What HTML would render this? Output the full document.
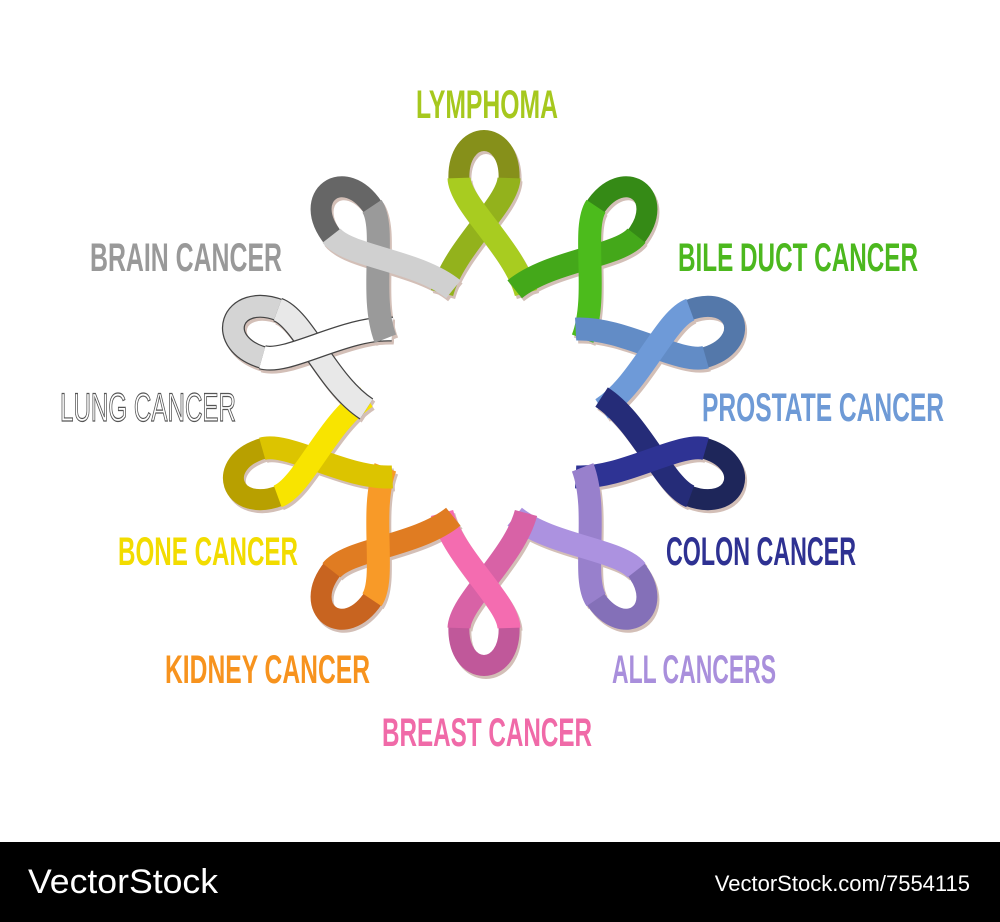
<!DOCTYPE html>
<html><head><meta charset="utf-8"><style>
html,body{margin:0;padding:0;background:#fff;}
svg{display:block;}
</style></head><body>
<svg width="1000" height="922" viewBox="0 0 1000 922" xmlns="http://www.w3.org/2000/svg">
<defs>
<path id="pk" d="M -25,-222 C -28,-276 28,-276 25,-222"/>
<path id="pd" d="M 25,-225 C 24,-198 -30,-155 -42,-110"/>
<path id="pl" d="M -25,-225 C -24,-198 30,-155 42,-110"/>
<g id="rib" fill="none" stroke-width="23">
  <use href="#pk" stroke="var(--k)" stroke-width="21"/>
  <use href="#pd" stroke="var(--d)"/>
  <use href="#pl" stroke="var(--l)"/>
</g>
<g id="ribo" fill="none">
  <use href="#pk" stroke="#444" stroke-width="23"/><use href="#pk" stroke="#d4d4d4" stroke-width="20.5"/>
  <use href="#pd" stroke="#444" stroke-width="25"/><use href="#pd" stroke="#e8e8e8" stroke-width="22.5"/>
  <use href="#pl" stroke="#444" stroke-width="25"/><use href="#pl" stroke="#ffffff" stroke-width="22.5"/>
</g>
</defs>
<rect width="1000" height="922" fill="#fff"/>
<g transform="translate(484,403)" style="filter:drop-shadow(2px 3px 0 rgba(200,175,165,0.8))">
  <use href="#rib" transform="rotate(0)" style="--k:#86901a;--d:#93b21c;--l:#a8cc20"/>
  <use href="#rib" transform="rotate(36)" style="--k:#358a16;--d:#44a81a;--l:#4cbb1c"/>
  <use href="#rib" transform="rotate(72)" style="--k:#5478aa;--d:#628cc6;--l:#6e9ad8"/>
  <use href="#rib" transform="rotate(108)" style="--k:#1e265a;--d:#252c78;--l:#2e3394"/>
  <use href="#rib" transform="rotate(144)" style="--k:#8470b8;--d:#9880cc;--l:#ac92e0"/>
  <use href="#rib" transform="rotate(180)" style="--k:#c0589a;--d:#d862a6;--l:#f46cb0"/>
  <use href="#rib" transform="rotate(216)" style="--k:#c86420;--d:#e07c22;--l:#f89a28"/>
  <use href="#rib" transform="rotate(252)" style="--k:#b8a000;--d:#dcc400;--l:#f8e400"/>
  <use href="#ribo" transform="rotate(288)"/>
  <use href="#rib" transform="rotate(324)" style="--k:#666;--d:#9a9a9a;--l:#d0d0d0"/>
</g>
<g font-family="'Liberation Sans Narrow','Liberation Sans',sans-serif" font-size="40" font-weight="bold">
  <text x="416" y="118" textLength="142" lengthAdjust="spacingAndGlyphs" fill="#a6c81e">LYMPHOMA</text>
  <text x="678" y="271" textLength="240" lengthAdjust="spacingAndGlyphs" fill="#4cb81e">BILE DUCT CANCER</text>
  <text x="702" y="421" textLength="242" lengthAdjust="spacingAndGlyphs" fill="#6e9ad6">PROSTATE CANCER</text>
  <text x="666" y="565" textLength="190" lengthAdjust="spacingAndGlyphs" fill="#2e3192">COLON CANCER</text>
  <text x="612" y="683" textLength="164" lengthAdjust="spacingAndGlyphs" fill="#a98fdc">ALL CANCERS</text>
  <text x="382" y="746" textLength="210" lengthAdjust="spacingAndGlyphs" fill="#f06aa8">BREAST CANCER</text>
  <text x="165" y="683" textLength="205" lengthAdjust="spacingAndGlyphs" fill="#f7931e">KIDNEY CANCER</text>
  <text x="118" y="565" textLength="180" lengthAdjust="spacingAndGlyphs" fill="#f2dc00">BONE CANCER</text>
  <text x="60" y="421" textLength="176" lengthAdjust="spacingAndGlyphs" fill="#fff" stroke="#555" stroke-width="1.2" font-weight="normal">LUNG CANCER</text>
  <text x="90" y="271" textLength="192" lengthAdjust="spacingAndGlyphs" fill="#999">BRAIN CANCER</text>
</g>
<rect x="0" y="842" width="1000" height="80" fill="#000"/>
<text x="28" y="893" font-family="'Liberation Sans',sans-serif" font-size="34" fill="#fff" textLength="190" lengthAdjust="spacingAndGlyphs">VectorStock</text>
<text x="970" y="891" text-anchor="end" font-family="'Liberation Sans',sans-serif" font-size="22" fill="#fff">VectorStock.com/7554115</text>
</svg>
</body></html>
